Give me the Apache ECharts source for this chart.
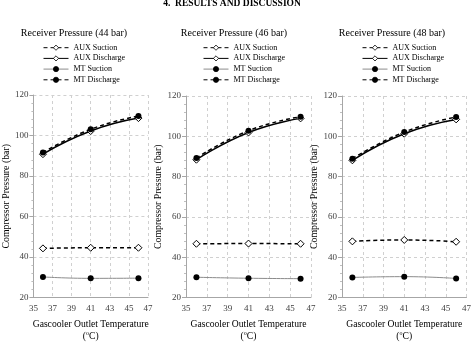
<!DOCTYPE html>
<html>
<head>
<meta charset="utf-8">
<script src="https://cdn.jsdelivr.net/npm/echarts@6/dist/echarts.min.js"></script>
<style>
  html, body { margin: 0; padding: 0; background: #fff; }
  #chart { width: 474px; height: 347px; }
</style>
</head>
<body>
<div id="chart"></div>
<script>
// Gas cooler outlet temperatures (°C) at which each case was run
const temperatures = [36, 41, 46];

// Receiver pressure cases shown side by side
const receiverPressures = [44, 46, 48];
const panelTitles = receiverPressures.map(p => 'Receiver Pressure (' + p + ' bar)');

// Compressor pressures (bar), one array per case
const auxSuction44 = [44.3, 44.6, 44.6];
const auxDischarge44 = [90.8, 102.2, 108.6];
const mtSuction44 = [30.2, 29.5, 29.6];
const mtDischarge44 = [91.6, 103.1, 109.6];

const auxSuction46 = [46.7, 46.8, 46.7];
const auxDischarge46 = [88.4, 101.9, 108.9];
const mtSuction46 = [30.1, 29.6, 29.4];
const mtDischarge46 = [89.2, 102.8, 109.7];

const auxSuction48 = [47.9, 48.6, 47.7];
const auxDischarge48 = [88.1, 101.3, 108.4];
const mtSuction48 = [30.0, 30.4, 29.5];
const mtDischarge48 = [88.9, 102.1, 109.6];

const seriesNames = ['AUX Suction', 'AUX Discharge', 'MT Suction', 'MT Discharge'];
const panelData = [
  [auxSuction44, auxDischarge44, mtSuction44, mtDischarge44],
  [auxSuction46, auxDischarge46, mtSuction46, mtDischarge46],
  [auxSuction48, auxDischarge48, mtSuction48, mtDischarge48]
];

const xTicks = { min: 35, max: 47, interval: 2 };
const yTicks = { min: 20, max: 120, interval: 20 };

const SERIF = '"Liberation Serif", "Times New Roman", serif';

// Plot areas and label placement for each panel
const layout = [
  { left: 23, top: 95, width: 125, height: 211, titleX: 74, legendX: 43, nameGap: 14 },
  { left: 186, top: 96, width: 125, height: 211, titleX: 234, legendX: 203, nameGap: 17 },
  { left: 342, top: 96, width: 129, height: 210, titleX: 392, legendX: 362, nameGap: 15 }
];

// Line and marker look of each curve
const styles = {
  'AUX Suction': {
    symbol: 'diamond', symbolSize: 7,
    itemStyle: { color: '#ffffff', borderColor: '#000000', borderWidth: 1 },
    lineStyle: { color: '#000000', width: 1.5, type: [4, 3] }
  },
  'AUX Discharge': {
    symbol: 'diamond', symbolSize: 7,
    itemStyle: { color: '#ffffff', borderColor: '#000000', borderWidth: 1 },
    lineStyle: { color: '#000000', width: 1.5, type: 'solid' }
  },
  'MT Suction': {
    symbol: 'circle', symbolSize: 6,
    itemStyle: { color: '#000000', borderColor: '#000000', borderWidth: 0 },
    lineStyle: { color: '#8c8c8c', width: 1, type: 'solid' }
  },
  'MT Discharge': {
    symbol: 'circle', symbolSize: 6,
    itemStyle: { color: '#000000', borderColor: '#000000', borderWidth: 0 },
    lineStyle: { color: '#000000', width: 1.5, type: [4, 3] }
  }
};

const grids = [], xAxes = [], yAxes = [], series = [], legends = [], graphics = [];

layout.forEach((L, i) => {
  grids.push({ left: L.left, top: L.top, width: L.width, height: L.height, containLabel: false });

  xAxes.push({
    gridIndex: i, type: 'value',
    min: xTicks.min, max: xTicks.max, interval: xTicks.interval,
    name: 'Gascooler Outlet Temperature\n({sup|o}C)',
    nameLocation: 'middle', nameGap: 16,
    nameTextStyle: {
      fontFamily: SERIF, fontSize: 9.6, color: '#000', lineHeight: 12,
      rich: { sup: { fontFamily: SERIF, fontSize: 6, verticalAlign: 'top', lineHeight: 12, color: '#000' } }
    },
    axisLine: { onZero: false, lineStyle: { color: '#a6a6a6', width: 1 } },
    axisTick: { show: false },
    axisLabel: { fontFamily: SERIF, fontSize: 9, color: '#404040', margin: 6.5 },
    splitLine: { show: true, lineStyle: { color: '#d0d0d0', type: [3, 3], width: 1 } }
  });

  yAxes.push({
    gridIndex: i, type: 'value',
    min: yTicks.min, max: yTicks.max, interval: yTicks.interval,
    name: 'Compressor Pressure (bar)',
    nameLocation: 'middle', nameRotate: 90, nameGap: L.nameGap,
    nameTextStyle: { fontFamily: SERIF, fontSize: 9.8, color: '#000' },
    axisLine: { show: true, lineStyle: { color: '#a6a6a6', width: 1 } },
    axisTick: { show: true, inside: false, length: 4, lineStyle: { color: '#a6a6a6' } },
    minorTick: { show: true, splitNumber: 5, length: 2, lineStyle: { color: '#bfbfbf' } },
    axisLabel: { fontFamily: SERIF, fontSize: 9, color: '#404040', margin: 5 },
    splitLine: { show: true, lineStyle: { color: '#d0d0d0', type: [3, 3], width: 1 } }
  });

  seriesNames.forEach((name, k) => {
    const st = styles[name];
    series.push({
      name: name, type: 'line', xAxisIndex: i, yAxisIndex: i,
      smooth: true, animation: false,
      symbol: st.symbol, symbolSize: st.symbolSize, showSymbol: true,
      itemStyle: st.itemStyle, lineStyle: st.lineStyle,
      data: temperatures.map((t, j) => [t, panelData[i][k][j]]),
      z: k === 3 ? 4 : 3
    });
  });

  legends.push({
    orient: 'vertical', left: L.legendX, top: 43.7, padding: 0,
    itemWidth: 25, itemHeight: 6.5, itemGap: 2.7,
    selectedMode: false,
    lineStyle: { width: 1 },
    itemStyle: { borderWidth: 0.8 },
    textStyle: { fontFamily: SERIF, fontSize: 8, lineHeight: 8, color: '#000' },
    data: seriesNames
  });

  graphics.push({
    type: 'text', x: L.titleX, y: 33.5,
    style: {
      text: panelTitles[i], fontFamily: SERIF, fontSize: 10, fill: '#000',
      textAlign: 'center', textVerticalAlign: 'middle'
    }
  });
});

graphics.push({
  type: 'text', x: 232, y: 8.5,
  style: {
    text: '4.  RESULTS AND DISCUSSION', fontFamily: SERIF, fontSize: 9.5, fontWeight: 'bold',
    fill: '#000', textAlign: 'center', textVerticalAlign: 'bottom'
  }
});

const chart = echarts.init(document.getElementById('chart'), null, { renderer: 'canvas' });
chart.setOption({
  backgroundColor: '#ffffff',
  animation: false,
  grid: grids,
  xAxis: xAxes,
  yAxis: yAxes,
  legend: legends,
  series: series,
  graphic: graphics
});
</script>
</body>
</html>
